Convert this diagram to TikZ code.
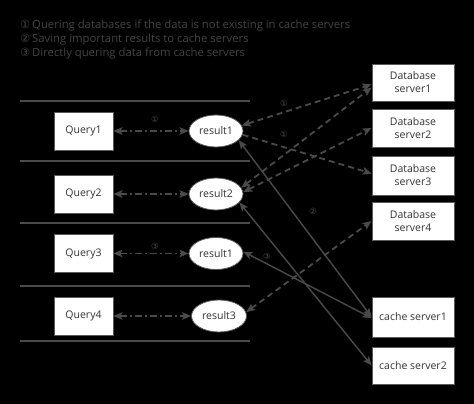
\documentclass[tikz,border=0pt]{standalone}
\usepackage{fontspec}
\setmainfont{Open Sans}
\newfontfamily\symfont{DejaVu Sans}
\usetikzlibrary{arrows.meta,shapes.geometric}
\definecolor{ln}{HTML}{4A4A4A}
\definecolor{txt}{HTML}{444444}
\definecolor{boxtxt}{HTML}{333333}
\definecolor{bord}{HTML}{5A5A5A}
\tikzset{
  >={Stealth[length=9pt,width=7.5pt,inset=2pt]},
  qbox/.style={draw=bord,line width=0.8pt,fill=white,minimum width=59pt,minimum height=38pt,inner sep=0pt,text=boxtxt,font=\fontsize{10.5}{12}\selectfont},
  sbox/.style={draw=bord,line width=0.8pt,fill=white,minimum width=82pt,minimum height=38pt,inner sep=0pt,align=center,text=boxtxt,font=\fontsize{10.5}{13}\selectfont},
  res/.style={ellipse,draw=bord,line width=0.8pt,fill=white,minimum width=54pt,minimum height=32pt,inner sep=0pt,text=boxtxt,font=\fontsize{10.5}{12}\selectfont},
  sep/.style={draw=ln,line width=1.6pt},
  dd/.style={draw=ln,line width=1.8pt,dash pattern=on 7pt off 3pt on 2pt off 3pt,<->},
  dsh/.style={draw=ln,line width=1.8pt,dash pattern=on 6pt off 4pt},
  sol/.style={draw=ln,line width=1.4pt},
  lbl/.style={text=ln,font=\symfont\fontsize{8.5}{9}\selectfont,inner sep=0pt},
  legend/.style={text=txt,font=\fontsize{11.3}{13}\selectfont,anchor=west,inner sep=0pt}
}
\begin{document}
\begin{tikzpicture}[x=1pt,y=-1pt]
\fill[black] (0,0) rectangle (474,404);
\useasboundingbox (0,0) rectangle (474,404);
% legend
\node[legend] (l1) at (20,26) {{\symfont ①}\,Quering databases if the data is not existing in cache servers};
\node[legend] (l2) at (20,40) {{\symfont ②}\,Saving important results to cache servers};
\node[legend] (l3) at (20,54) {{\symfont ③}\,Directly quering data from cache servers};
% separators
\foreach \yy/\nm in {101/s1,161/s2,223/s3,286/s4,341/s5}{
  \coordinate (\nm a) at (20,\yy);
  \coordinate (\nm b) at (250,\yy);
  \draw[sep] (\nm a) -- (\nm b);
}
% queries
\node[qbox] (q1) at (83.5,131) {Query1};
\node[qbox] (q2) at (83.5,194) {Query2};
\node[qbox] (q3) at (83.5,253.5) {Query3};
\node[qbox] (q4) at (83.5,316) {Query4};
% results
\node[res] (r1) at (216,131) {result1};
\node[res] (r2) at (216,194) {result2};
\node[res] (r3) at (216,253.5) {result1};
\node[res,minimum width=55pt] (r4) at (219,316) {result3};
% servers
\node[sbox,minimum height=37pt] (db1) at (413,82.5) {Database\\server1};
\node[sbox] (db2) at (413,128) {Database\\server2};
\node[sbox,minimum height=39pt] (db3) at (413,175.5) {Database\\server3};
\node[sbox] (db4) at (413,221) {Database\\server4};
\node[sbox,minimum height=40pt] (cs1) at (413,317) {cache server1};
\node[sbox,minimum height=37pt] (cs2) at (413,365.5) {cache server2};
% query <-> result
\draw[dd] (q1) -- (r1);
\draw[dd] (q2) -- (r2);
\draw[dd] (q3) -- (r3);
\draw[dd] (q4) -- (r4);
\node[lbl] (la1) at (155,119) {①};
\node[lbl] (la3) at (155,246) {③};
% dashed to databases
\draw[dsh,<->] (r1.12) -- ([yshift=-2pt]db1.west);
\draw[dsh,->] (r1.-8) -- ([yshift=2pt]db3.west);
\draw[dsh,<->] (r2.14) -- ([yshift=-5pt]db1.west);
\draw[dsh,<->] (r2.4) -- (db2.west);
\draw[dsh,<->] (r4.8) -- (db4.west);
% solid to cache servers
\draw[sol,<->] (r1.-22) -- (cs1.west);
\draw[sol,<->] (r2.-20) -- (cs2.west);
\draw[sol,<->] (r3.4) -- ([yshift=-1pt]cs1.west);
\node[lbl] (lb1) at (284,103) {①};
\node[lbl] (lb2) at (284,134) {①};
\node[lbl] (lb3) at (313,211) {②};
\node[lbl] (lb4) at (267,256) {③};
\end{tikzpicture}
\end{document}
